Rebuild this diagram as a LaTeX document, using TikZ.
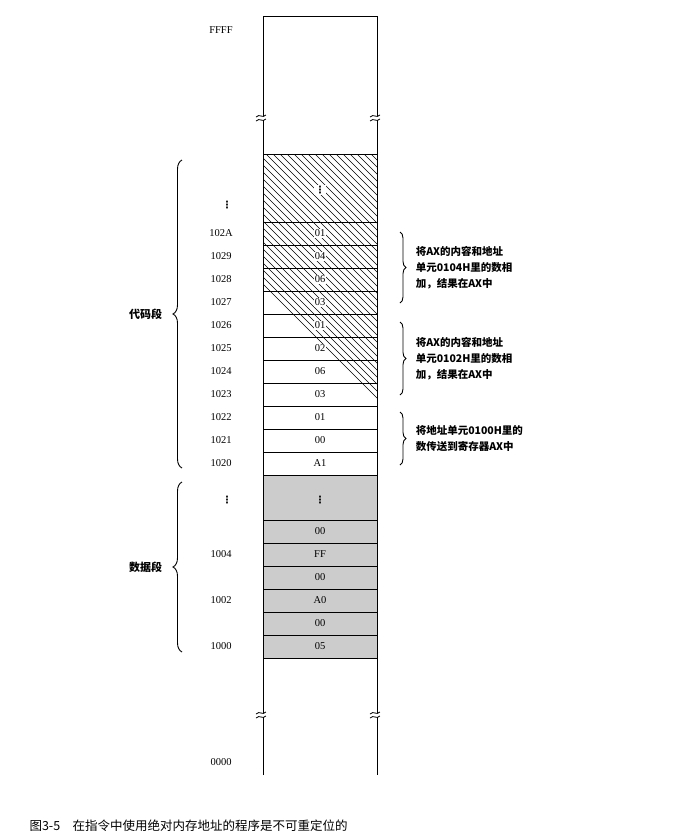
\documentclass[tikz,border=0pt]{standalone}
\usepackage{fontspec}
\setmainfont{Liberation Serif}
\newfontfamily\cjk{Noto Sans CJK SC}
\newfontfamily\dvs{DejaVu Sans}
\usetikzlibrary{decorations.pathreplacing}
\begin{document}
\begin{tikzpicture}[x=1pt,y=-1pt,
  addr/.style={font=\fontsize{10.5}{12}\selectfont},
  cell/.style={font=\fontsize{10.5}{12}\selectfont},
  vd/.style={font=\dvs\bfseries\fontsize{10}{12}\selectfont,inner sep=1pt},
  note/.style={font=\cjk\bfseries\fontsize{10.5}{16}\selectfont,align=left,anchor=west},
  br/.style={decorate,decoration={brace,amplitude=9pt},line width=0.9pt},
  brs/.style={decorate,decoration={brace,amplitude=6pt},line width=0.9pt}]
\useasboundingbox (0,0) rectangle (680,839);
% hatched region
\begin{scope}
\clip (263,154) rectangle (377,475);
\foreach \k in {-130,-123,...,330}
  \draw[line width=0.6pt] (263+\k,154) -- (263+\k+330,484);
\end{scope}
\foreach \y in {154,222,245,268,291,314,337,360,383,406,429,452,475}
  \draw[line width=0.8pt] (263,\y) -- (377,\y);
% gray region
\fill[gray!40] (263,475) rectangle (377,658);
\foreach \y in {475,520,543,566,589,612,635,658}
  \draw[line width=0.8pt] (263,\y) -- (377,\y);
% outline
\draw[line width=0.9pt] (263,775) -- (263,16) -- (377,16) -- (377,775);
% breaks
\foreach \yy in {118,715}{
  \foreach \xx in {263,377}{
    \fill[white] (\xx-3,\yy-2) rectangle (\xx+3,\yy+2);
    \draw[line width=0.8pt] (\xx-7,\yy-1) .. controls (\xx-3,\yy-5) and (\xx-1,\yy+1) .. (\xx+3,\yy-3);
    \draw[line width=0.8pt] (\xx-7,\yy+3) .. controls (\xx-3,\yy-1) and (\xx-1,\yy+5) .. (\xx+3,\yy+1);
  }}
% cell texts
\foreach \y/\t in {233.5/01,256.5/04,279.5/06,302.5/03,325.5/01,348.5/02,371.5/06,394.5/03,417.5/01,440.5/00,463.5/A1}
  \node[cell,fill=white,inner sep=1pt] (c\t\y) at (320,\y) {\t};
\foreach \y/\t in {531.5/00,554.5/FF,577.5/00,600.5/A0,623.5/00,646.5/05}
  \node[cell] (c\t\y) at (320,\y) {\t};
\node[vd,fill=white] (d1) at (320,190) {⋮};
\node[vd] (d2) at (320,500) {⋮};
% addresses
\foreach \y/\t in {30/FFFF,233.5/102A,256.5/1029,279.5/1028,302.5/1027,325.5/1026,348.5/1025,371.5/1024,394.5/1023,417.5/1022,440.5/1021,463.5/1020,554.5/1004,600.5/1002,646.5/1000,762/0000}
  \node[addr] (a\t) at (221,\y) {\t};
\node[vd] (ad1) at (227,205) {⋮};
\node[vd] (ad2) at (227,500) {⋮};
% left braces
\draw[br] (182,468) -- (182,160) node[midway,left=16pt,font=\cjk\bfseries\fontsize{11}{12}\selectfont] (code) {代码段};
\draw[br] (182,652) -- (182,482) node[midway,left=16pt,font=\cjk\bfseries\fontsize{11}{12}\selectfont] (data) {数据段};
% right braces
\draw[brs] (400,232) -- (400,303) node[midway,right=12pt,note] (n1) {将AX的内容和地址\\单元0104H里的数相\\加，结果在AX中};
\draw[brs] (400,322) -- (400,395) node[midway,right=12pt,note] (n2) {将AX的内容和地址\\单元0102H里的数相\\加，结果在AX中};
\draw[brs] (400,412) -- (400,465) node[midway,right=12pt,note] (n3) {将地址单元0100H里的\\数传送到寄存器AX中};
% caption
\node[anchor=west,font=\cjk\fontsize{12.5}{14}\selectfont] (cap) at (26,826) {图3-5\quad 在指令中使用绝对内存地址的程序是不可重定位的};
\end{tikzpicture}
\end{document}
